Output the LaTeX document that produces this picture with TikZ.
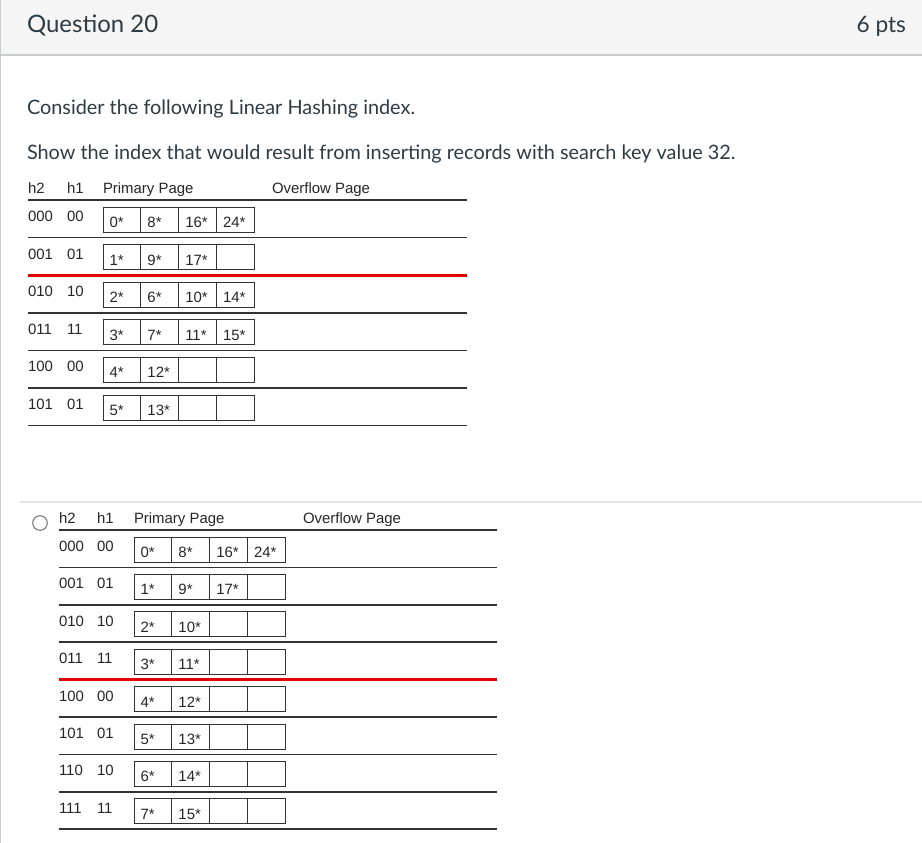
\documentclass[tikz,border=0pt]{standalone}
\usepackage{fontspec}
\setmainfont{Lato}
\newfontfamily\arialfont{Liberation Sans}
\usepackage{xcolor}
\usetikzlibrary{positioning}

\definecolor{headgray}{HTML}{F5F5F5}
\definecolor{bordergray}{HTML}{C7CDD1}
\definecolor{sepgray}{HTML}{E2E4E6}
\definecolor{textdark}{HTML}{2D3B45}
\definecolor{splitred}{HTML}{E00000}

\begin{document}
\begin{tikzpicture}[x=0.75pt,y=-0.75pt]
\tikzstyle{every node}=[inner sep=0pt, outer sep=0pt]
\tikzstyle{tabtext}=[font=\arialfont\fontsize{11.2}{13}\selectfont, text=black!85, anchor=base west]
\tikzstyle{bucket}=[draw=black!80, line width=0.75pt, anchor=north west,
  font=\arialfont\fontsize{11.2}{13}\selectfont, text=black!85,
  inner xsep=5pt, text width=18.35pt, align=left, text height=15.4pt, text depth=3.4pt]
\tikzstyle{rowline}=[draw=black!80, line width=1.1pt]
\tikzstyle{nextline}=[draw=splitred, line width=2.3pt]

\useasboundingbox (0,0) rectangle (922,843);

% question header
\fill[headgray] (0,0) rectangle (922,55);
\draw[bordergray, line width=1pt] (0,55) -- (922,55);
\draw[bordergray, line width=1pt] (0.7,0) -- (0.7,843);
\node[anchor=base west, font=\fontsize{18}{21}\selectfont, text=textdark] (qname) at (27,32) {Question 20};
\node[anchor=base east, font=\fontsize{17}{20}\selectfont, text=textdark] (qpts) at (906,32) {6 pts};

% question text
\node[anchor=base west, font=\fontsize{14.9}{18}\selectfont, text=textdark] (qtext1) at (27,114) {Consider the following Linear Hashing index.};
\node[anchor=base west, font=\fontsize{14.9}{18}\selectfont, text=textdark] (qtext2) at (27,159) {Show the index that would result from inserting records with search key value 32.};

% index before the insert
\begin{scope}[shift={(28,200)}]
  \node[tabtext] (ah2) at (0,-7) {h2};
  \node[tabtext] (ah1) at (39,-7) {h1};
  \node[tabtext] (apri) at (75,-7) {Primary Page};
  \node[tabtext] (aovf) at (244,-7) {Overflow Page};
  \draw[rowline] (0,0) -- (439,0);
  \foreach \i/\hb/\ha/\ka/\kb/\kc/\kd in {0/000/00/0*/8*/16*/24*, 1/001/01/1*/9*/17*/{},
      2/010/10/2*/6*/10*/14*, 3/011/11/3*/7*/11*/15*, 4/100/00/4*/12*/{}/{}, 5/101/01/5*/13*/{}/{}} {
    \node[tabtext] (a\i h2) at (0,37.6*\i+21.5) {\hb};
    \node[tabtext] (a\i h1) at (39,37.6*\i+21.5) {\ha};
    \node[bucket] (a\i b0) at (75,37.6*\i+7) {\ka};
    \node[bucket] (a\i b1) at (112.8,37.6*\i+7) {\kb};
    \node[bucket] (a\i b2) at (150.6,37.6*\i+7) {\kc};
    \node[bucket] (a\i b3) at (188.4,37.6*\i+7) {\kd};
  }
  \foreach \i in {1,3,4,5,6} {
    \draw[rowline] (0,37.6*\i) -- (439,37.6*\i);
  }
  \draw[nextline] (0,37.6*2) -- (439,37.6*2); % next pointer
\end{scope}

\draw[sepgray, line width=1pt] (20,502) -- (922,502);

% answer choice
\draw[black!55, fill=white, line width=0.8pt] (40,523) circle (7.3);
\begin{scope}[shift={(59,530)}]
  \node[tabtext] (bh2) at (0,-7) {h2};
  \node[tabtext] (bh1) at (38,-7) {h1};
  \node[tabtext] (bpri) at (75,-7) {Primary Page};
  \node[tabtext] (bovf) at (244,-7) {Overflow Page};
  \draw[rowline] (0,0) -- (438,0);
  \foreach \i/\hb/\ha/\ka/\kb/\kc/\kd in {0/000/00/0*/8*/16*/24*, 1/001/01/1*/9*/17*/{},
      2/010/10/2*/10*/{}/{}, 3/011/11/3*/11*/{}/{}, 4/100/00/4*/12*/{}/{}, 5/101/01/5*/13*/{}/{},
      6/110/10/6*/14*/{}/{}, 7/111/11/7*/15*/{}/{}} {
    \node[tabtext] (b\i h2) at (0,37.4*\i+21.5) {\hb};
    \node[tabtext] (b\i h1) at (38,37.4*\i+21.5) {\ha};
    \node[bucket] (b\i b0) at (75,37.4*\i+7) {\ka};
    \node[bucket] (b\i b1) at (112.8,37.4*\i+7) {\kb};
    \node[bucket] (b\i b2) at (150.6,37.4*\i+7) {\kc};
    \node[bucket] (b\i b3) at (188.4,37.4*\i+7) {\kd};
  }
  \foreach \i in {1,2,3,5,6,7,8} {
    \draw[rowline] (0,37.4*\i) -- (438,37.4*\i);
  }
  \draw[nextline] (0,37.4*4) -- (438,37.4*4); % next pointer
\end{scope}
\end{tikzpicture}
\end{document}
